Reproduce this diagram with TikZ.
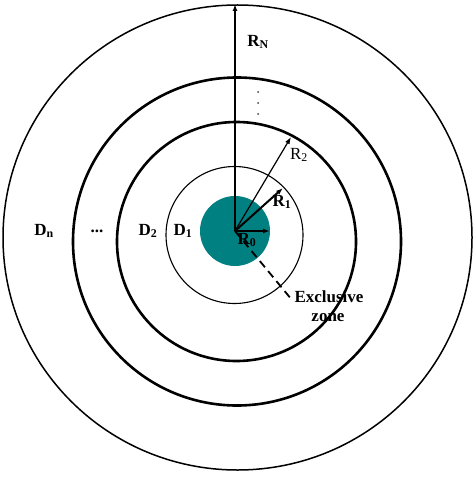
\documentclass[tikz,border=0pt]{standalone}
\usepackage{fontspec}
\setmainfont{Liberation Serif}
\usetikzlibrary{arrows.meta}
\definecolor{teal0}{RGB}{0,128,128}
\begin{document}
\begin{tikzpicture}[x=1pt,y=-1pt,
  thinring/.style={line width=1.1pt},
  thickring/.style={line width=2.6pt},
  outerring/.style={line width=1.5pt},
  lbl/.style={font=\fontsize{17}{19}\selectfont\bfseries, inner sep=0pt},
  lblr/.style={font=\fontsize{17}{19}\selectfont, inner sep=0pt},
  arr/.style={-{Latex[length=7pt,width=5pt]}},
  dots/.style={circle, fill=black!75, inner sep=0pt, minimum size=2pt}]
\useasboundingbox (0,0) rectangle (474,492);
\fill[white] (0,0) rectangle (474,492);
% rings
\draw[outerring] (237.5,237.5) ellipse [x radius=234.5, y radius=232.5];
\draw[thickring] (237,241.5) circle [radius=164];
\draw[thickring] (236.5,241.5) circle [radius=119.5];
\draw[thinring] (234.5,235) circle [radius=68.5];
\fill[teal0] (235,231) circle [radius=35];
% points
\coordinate (O) at (235,231);
\coordinate (TN) at (235,4);
\coordinate (T2) at (291,137);
\coordinate (T1) at (283,188);
\coordinate (T0) at (270,231);
\coordinate (E) at (292,300);
% dashed exclusive zone pointer
\draw[line width=1.8pt, dash pattern=on 8pt off 5pt] (O) -- (E);
% arrows
\draw[arr, line width=2pt] (O) -- (TN);
\draw[arr, line width=1.2pt] (O) -- (T2);
\draw[arr, line width=2pt] (O) -- (T1);
\draw[arr, line width=2pt] (O) -- (T0);
% dots
\node[dots] (d1) at (258,92) {};
\node[dots] (d2) at (258,103) {};
\node[dots] (d3) at (258,114) {};
% labels
\node[lbl] (RN) at (258,42) {R\textsubscript{N}};
\node[lblr] (R2) at (299,155) {R\textsubscript{2}};
\node[lbl] (R1) at (282,202) {R\textsubscript{1}};
\node[lbl] (R0) at (247,240) {R\textsubscript{0}};
\node[lbl] (Dn) at (44,231) {D\textsubscript{n}};
\node[lbl] (Dd) at (97,231) {...};
\node[lbl] (D2) at (148,231) {D\textsubscript{2}};
\node[lbl] (D1) at (183,231) {D\textsubscript{1}};
\node[lbl] (Ex) at (329,297) {Exclusive};
\node[lbl] (Zo) at (328,318) {zone};
\end{tikzpicture}
\end{document}
